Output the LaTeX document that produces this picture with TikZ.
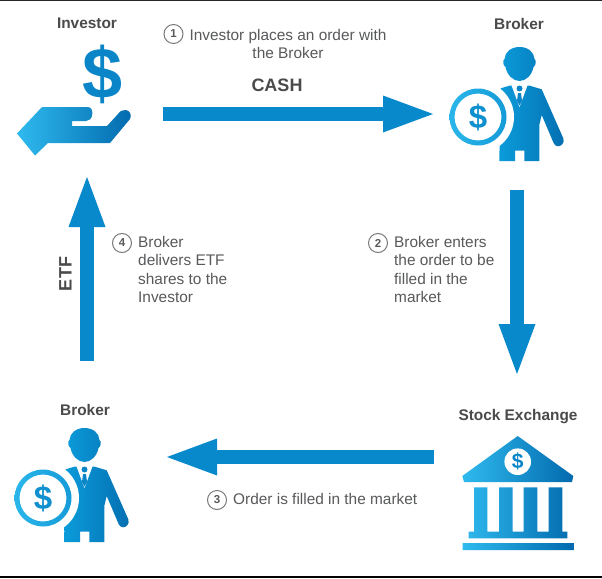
\documentclass[tikz,border=0pt]{standalone}
\usepackage{fontspec}
\setmainfont{Liberation Sans}
\usetikzlibrary{arrows.meta}
\definecolor{arrowblue}{HTML}{0889CB}
\definecolor{txtgray}{HTML}{58595B}
\definecolor{headgray}{HTML}{4A4A4C}
\definecolor{darkblue}{HTML}{0A86C8}
\definecolor{pl}{HTML}{0B9BDA}
\definecolor{pr}{HTML}{046FB1}
\definecolor{cl}{HTML}{2AB6EA}
\definecolor{cr}{HTML}{159BD8}
\definecolor{gl}{HTML}{2FBAEE}
\definecolor{gr}{HTML}{026AAE}
\tikzset{
  flow/.style={draw=arrowblue,line width=14pt,-{Triangle[length=50pt,width=37pt,line width=0pt,sep=0pt]}},
  head/.style={font=\bfseries\fontsize{15.4}{18}\selectfont,text=headgray,inner sep=0pt},
  body/.style={font=\fontsize{15.4}{18.2}\selectfont,text=txtgray,inner sep=0pt,align=left},
  num/.style={circle,draw=txtgray!80,line width=1pt,minimum size=19pt,inner sep=0pt,
    font=\bfseries\fontsize{11.5}{12}\selectfont,text=txtgray},
  blade/.style={font=\bfseries\fontsize{18}{20}\selectfont,text=headgray,inner sep=0pt}
}
\newcommand{\brokericon}[3]{%
\begin{scope}[shift={(#1,#2)}]
  \shade[left color=pl,right color=pr]
    (519.5,47) .. controls (528,47) and (534,52) .. (534.5,59)
    .. controls (536.5,60) and (536,66) .. (533.5,67)
    .. controls (532,75) and (526,81) .. (519.5,81)
    .. controls (513,81) and (507,75) .. (505.5,67)
    .. controls (503,66) and (502.5,60) .. (504.5,59)
    .. controls (505,52) and (511,47) .. (519.5,47) -- cycle
    (500.7,88.3) -- (510,85.5) -- (529,85.5) -- (541.7,89.3)
    -- (563.3,138.3) .. controls (565,143) and (561,146.5) .. (558,146.3)
    .. controls (556,146.3) and (554.5,145) .. (553.6,143)
    -- (541.7,115) -- (539.3,125) -- (539.3,161) -- (524.3,161) -- (524.3,150.7)
    -- (515,150.7) -- (515,161) -- (499.3,161) -- cycle;
  \fill[white] (511,84) -- (519.5,107) -- (528,84) -- cycle;
  \fill[darkblue] (519.5,88.5) circle (3);
  \fill[darkblue] (518,93) -- (521,93) -- (522,101) -- (519.5,105.5) -- (517,101) -- cycle;
  \fill[white] (478,117) circle (36);
  \shade[left color=cl,right color=cr,even odd rule]
    (478,117) circle (28.5) (478,117) circle (23.5);
  \node[inner sep=0pt,text=darkblue!80!cl,font=\bfseries\fontsize{33}{33}\selectfont] (#3) at (478,117) {\$};
\end{scope}}
\begin{document}
\begin{tikzpicture}[x=1pt,y=-1pt]
\useasboundingbox (0,0) rectangle (602,578);
\fill[white] (0,0) rectangle (602,578);
\fill[black!85] (0,0) rectangle (602,1);
\fill[black] (0,576) rectangle (602,578);

% labels
\node[head] (lblinv) at (87,23) {Investor};
\node[head] (lblbr1) at (519,24) {Broker};
\node[head] (lblbr2) at (85,410) {Broker};
\node[head] (lblse) at (518,417) {Stock Exchange};

% investor icon
\node[inner sep=0pt,text=darkblue,font=\bfseries\fontsize{72}{72}\selectfont] (invdollar) at (102.5,74.5) {\$};
\shade[left color=gl,right color=gr]
  (42,107) -- (88,107) .. controls (92,107) and (92.5,112) .. (92.3,114)
  .. controls (92,119) and (89,121) .. (86,121)
  -- (72,121) -- (72,126) -- (107,126) -- (118,114)
  .. controls (120,111) and (123,109.5) .. (126,110)
  .. controls (130,111) and (132,115) .. (130,119)
  -- (110,143) -- (48,143) -- (35,155.5) -- (17,133.5) -- cycle;

% broker icons
\brokericon{0}{0}{coinone}
\brokericon{-435}{381}{cointwo}

% stock exchange icon
\shade[left color=gl,right color=gr]
  (517.7,436) -- (573.3,476) -- (572,482) -- (464,482) -- (462.3,476) -- cycle
  (474,487.3) rectangle (487.3,531.7)
  (499,487.3) rectangle (512.7,531.7)
  (523.7,487.3) rectangle (537.3,531.7)
  (548.7,487.3) rectangle (562.3,531.7)
  (468.7,531.7) rectangle (567.3,538.3)
  (462.7,543) rectangle (573.3,550);
\fill[white] (517.7,461.7) circle (13.3);
\node[inner sep=0pt,text=darkblue,font=\bfseries\fontsize{21}{21}\selectfont] (bankdollar) at (517.7,461.7) {\$};

% flow ends
\coordinate (a1s) at (163,114);  \coordinate (a1e) at (433,114);
\coordinate (a2s) at (517,190);  \coordinate (a2e) at (517,374);
\coordinate (a3s) at (434,457);  \coordinate (a3e) at (167,457);
\coordinate (a4s) at (87,361);   \coordinate (a4e) at (87,177);
\draw[flow] (a1s) -- (a1e);
\draw[flow] (a2s) -- (a2e);
\draw[flow] (a3s) -- (a3e);
\draw[flow] (a4s) -- (a4e);

% arrow names
\node[blade] (cash) at (277,85) {CASH};
\node[blade,rotate=90] (etf) at (65.5,274) {ETF};

% steps
\node[num] (n1) at (173.5,34) {1};
\node[body,align=center] (t1) at (288,44) {Investor places an order with\\the Broker};
\node[num] (n2) at (378,243) {2};
\node[body,anchor=west] (t2) at (394,269.5) {Broker enters\\the order to be\\filled in the\\market};
\node[num] (n3) at (217,500) {3};
\node[body,anchor=west] (t3) at (233,499) {Order is filled in the market};
\node[num] (n4) at (122,243) {4};
\node[body,anchor=west] (t4) at (138,269.5) {Broker\\delivers ETF\\shares to the\\Investor};
\end{tikzpicture}
\end{document}
